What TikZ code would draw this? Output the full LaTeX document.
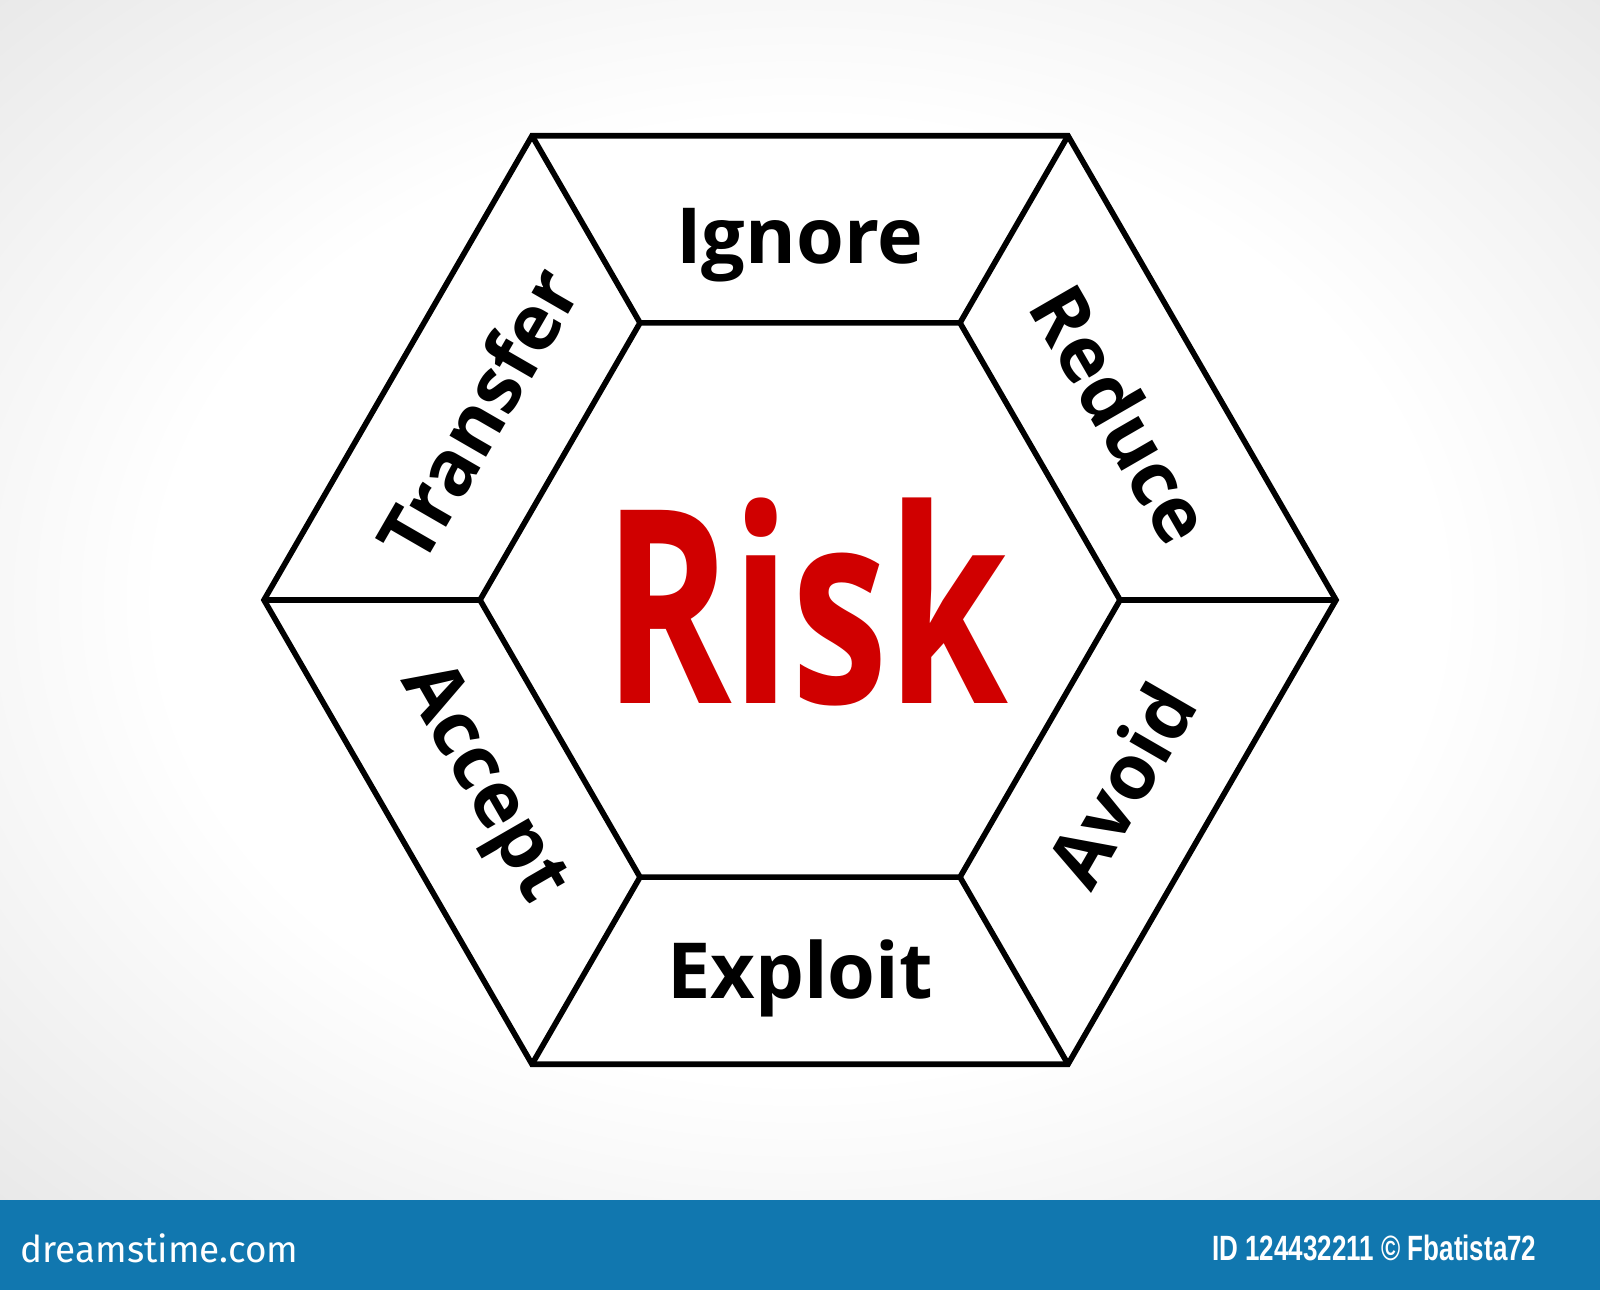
\documentclass[tikz,border=0pt]{standalone}
\usepackage{fontspec}
\setmainfont{Open Sans}
\newfontfamily\bannerfont{Fira Sans}
\newfontfamily\idfont{Liberation Sans}
\usepackage{xcolor}
\usetikzlibrary{calc}
\definecolor{riskred}{HTML}{D00000}
\definecolor{bannerblue}{HTML}{1177AF}
\definecolor{edgegray}{HTML}{CFCFCF}
\pgfdeclareradialshading{bgglow}{\pgfpoint{0bp}{0bp}}{color(0bp)=(white); color(20bp)=(white); color(42bp)=(edgegray!65); color(72bp)=(edgegray)}

\begin{document}
\begin{tikzpicture}[
    hexline/.style={draw=black, line width=1.6pt, line join=miter},
    spoke/.style={draw=black, line width=1.6pt},
    option/.style={font=\bfseries\fontsize{22}{24}\selectfont, text=black, inner sep=0pt},
    risklabel/.style={font=\bfseries\fontsize{77}{80}\selectfont, text=riskred, xscale=0.72, inner sep=0pt},
    bannertext/.style={text=white, inner sep=0pt},
]
\useasboundingbox (0,0) rectangle (16,12.9);
\shade[shading=bgglow] (0,0.9) rectangle (16,12.9);
\fill[bannerblue] (0,0) rectangle (16,0.9);

% hexagon corners
\coordinate (c) at (8,6.9);
\foreach \i/\a in {1/0,2/60,3/120,4/180,5/240,6/300}{
  \coordinate (out\i) at ($(c)+(\a:5.36)$);
  \coordinate (in\i) at ($(c)+(\a:3.2)$);
}
\filldraw[hexline, fill=white] (out1) -- (out2) -- (out3) -- (out4) -- (out5) -- (out6) -- cycle;
\draw[hexline] (in1) -- (in2) -- (in3) -- (in4) -- (in5) -- (in6) -- cycle;
\foreach \i in {1,...,6}
  \draw[spoke] (in\i) -- (out\i);

% the six options
\node[option] (ignore) at ($(c)+(90:3.55)$) {Ignore};
\node[option, rotate=-60] (reduce) at ($(c)+(30:3.72)$) {Reduce};
\node[option, rotate=60] (avoid) at ($(c)+(-30:3.7)$) {Avoid};
\node[option] (exploit) at ($(c)+(-90:3.78)$) {Exploit};
\node[option, rotate=-60] (accept) at ($(c)+(210:3.68)$) {Accept};
\node[option, rotate=60] (transfer) at ($(c)+(150:3.72)$) {Transfer};

\node[risklabel] (risk) at ($(c)+(0.06,-0.02)$) {Risk};

% banner
\node[bannertext, anchor=west, font=\bannerfont\fontsize{10.5}{12}\selectfont] (site) at (0.2,0.42) {dreamstime.com};
\node[bannertext, anchor=east, xscale=0.74, font=\idfont\bfseries\fontsize{10}{12}\selectfont] (imgid) at (15.37,0.42) {ID 124432211 © Fbatista72};
\end{tikzpicture}
\end{document}
